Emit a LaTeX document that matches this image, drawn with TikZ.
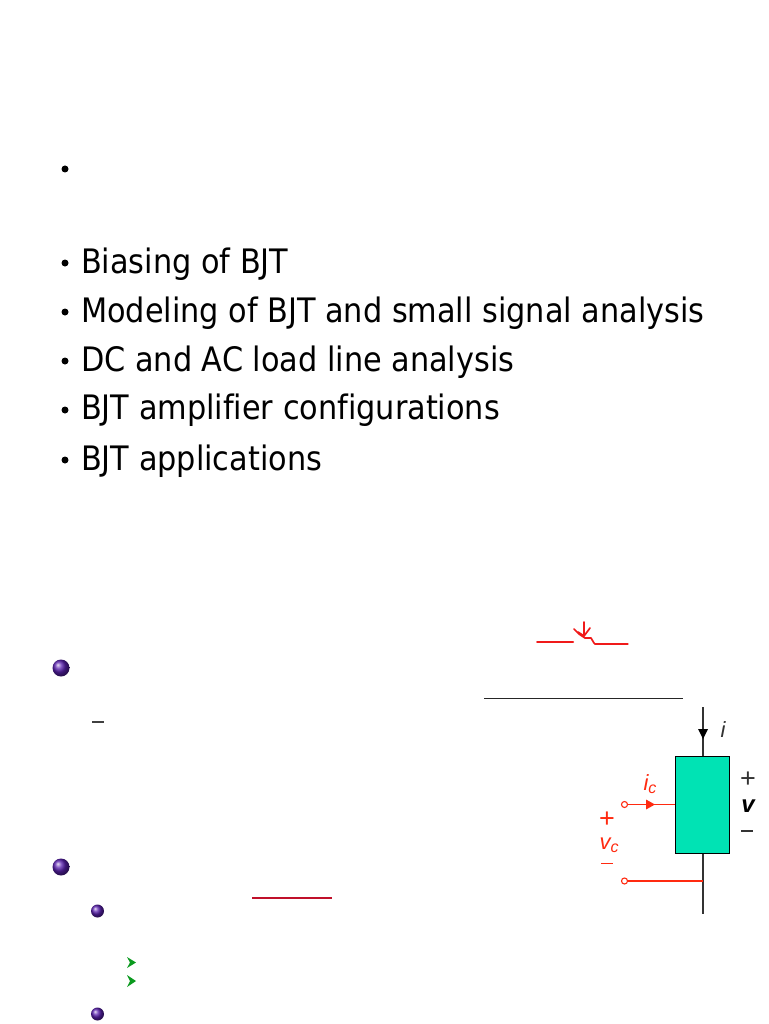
\documentclass[tikz,border=0pt]{standalone}
\usepackage{fontspec}
\setmainfont[Ligatures=NoCommon]{DejaVu Sans Condensed}
\newfontfamily\symb{Liberation Sans}
\usetikzlibrary{arrows.meta}
\definecolor{boxgreen}{HTML}{00E3B4}
\definecolor{sigred}{HTML}{FF2A10}
\definecolor{inkred}{HTML}{F01A1A}
\definecolor{darkred}{HTML}{C0102A}
\definecolor{ballpurple}{HTML}{5A20B0}
\definecolor{tipgreen}{HTML}{0A9A1E}
\definecolor{wiregray}{HTML}{333333}
\tikzset{
  x=1pt,y=-1pt,
  listline/.style={anchor=base west,inner sep=0pt,font=\fontsize{33.7}{33.7}\selectfont,text=black},
  listdot/.style={circle,fill=black,inner sep=0pt,minimum size=7pt},
  bigball/.style={circle,inner sep=0pt,minimum size=17pt,ball color=ballpurple},
  smallball/.style={circle,inner sep=0pt,minimum size=13pt,ball color=ballpurple},
  wire/.style={draw=wiregray,line width=1.4pt},
  sigwire/.style={draw=sigred,line width=1.2pt},
  term/.style={circle,draw=sigred,fill=white,line width=1.1pt,inner sep=0pt,minimum size=6pt},
  lab/.style={inner sep=0pt,font=\fontsize{22}{22}\selectfont\symb\itshape},
  sym/.style={inner sep=0pt,font=\fontsize{27}{27}\selectfont\symb},
  ink/.style={draw=inkred,line width=1.7pt,line cap=round,line join=round},
  rule/.style={line width=1.9pt},
}
\begin{document}
\begin{tikzpicture}
\useasboundingbox[fill=white] (0,0) rectangle (768,1024);
% upper list
\node[listdot] (d0) at (65,169) {};
\node[listdot] (d1) at (65,263) {};
\node[listdot] (d2) at (65,312) {};
\node[listdot] (d3) at (65,361) {};
\node[listdot] (d4) at (65,410) {};
\node[listdot] (d5) at (65,460) {};
\node[listline] (t1) at (81,273) {Biasing of BJT};
\node[listline] (t2) at (81,322) {Modeling of BJT and small signal analysis};
\node[listline] (t3) at (81,371) {DC and AC load line analysis};
\node[listline] (t4) at (81,419) {BJT amplifier configurations};
\node[listline] (t5) at (81,470) {BJT applications};
% bullets of the lower part
\node[bigball] (b1) at (61,668) {};
\node[bigball] (b2) at (61,867) {};
\node[smallball] (b3) at (97.500,911) {};
\node[smallball] (b4) at (97.500,1014) {};
\fill[tipgreen] (127,957) -- (136,962.500) -- (127,968) -- (130,962.500) -- cycle;
\fill[tipgreen] (127,975) -- (136,981) -- (127,987) -- (130,981) -- cycle;
\draw[line width=1.5pt,draw=black!75] (92,722) -- (104,722);
% rules
\draw[rule,draw=black!85] (484,698.500) -- (683,698.500);
\draw[rule,draw=darkred] (252,898) -- (332,898);
% hand-drawn transistor mark
\draw[ink,line width=2pt] (537,642) -- (573,642);
\draw[ink,line width=1.2pt] (595,644) -- (628,644);
\draw[ink] (584,622) -- (584,636);
\draw[ink] (574,629) -- (579,634) -- (585,638) -- (591,638) -- (594,643) -- (595,644);
\draw[ink] (578,632) -- (584,636) -- (590,628);
% device
\node[draw=black,line width=1.5pt,fill=boxgreen,minimum width=54pt,minimum height=97pt,inner sep=0pt] (dev) at (702.500,805) {};
\coordinate (top) at (703,707);
\coordinate (bot) at (703,914);
\coordinate (junc) at (703,881);
\draw[wire] (top) -- (dev.north -| top);
\draw[wire] (dev.south -| bot) -- (bot);
\fill[black] (698,729) -- (708,729) -- (703,739) -- cycle;
\node[term] (t-a) at (624.500,804.500) {};
\node[term] (t-b) at (624.500,881) {};
\draw[sigwire] (t-a) -- (t-a -| dev.west);
\draw[sigwire,line width=1.7pt] (t-b) -- (junc);
\fill[sigred] (646,799.500) -- (655,804.500) -- (646,809.500) -- cycle;
\node[lab,text=black!80] (li) at (723,730) {i};
\node[lab,text=sigred,anchor=base] (lic) at (650,790) {i\raisebox{-3pt}{\fontsize{16}{16}\selectfont c}};
\node[sym,text=sigred] (lp) at (607,820) {+};
\node[lab,text=sigred,anchor=base] (lvc) at (609,849) {v\raisebox{-3pt}{\fontsize{16}{16}\selectfont c}};
\node[inner sep=0pt,text=sigred] (lm) at (607,863.500) {\rule{12pt}{1.4pt}};
\node[sym,text=black!80] (rp) at (748,780) {+};
\node[lab,text=black,font=\fontsize{24}{24}\selectfont\symb\itshape\bfseries] (rv) at (748,806) {v};
\node[inner sep=0pt,text=black!80] (rm) at (747,831) {\rule{12pt}{1.4pt}};
\end{tikzpicture}
\end{document}
